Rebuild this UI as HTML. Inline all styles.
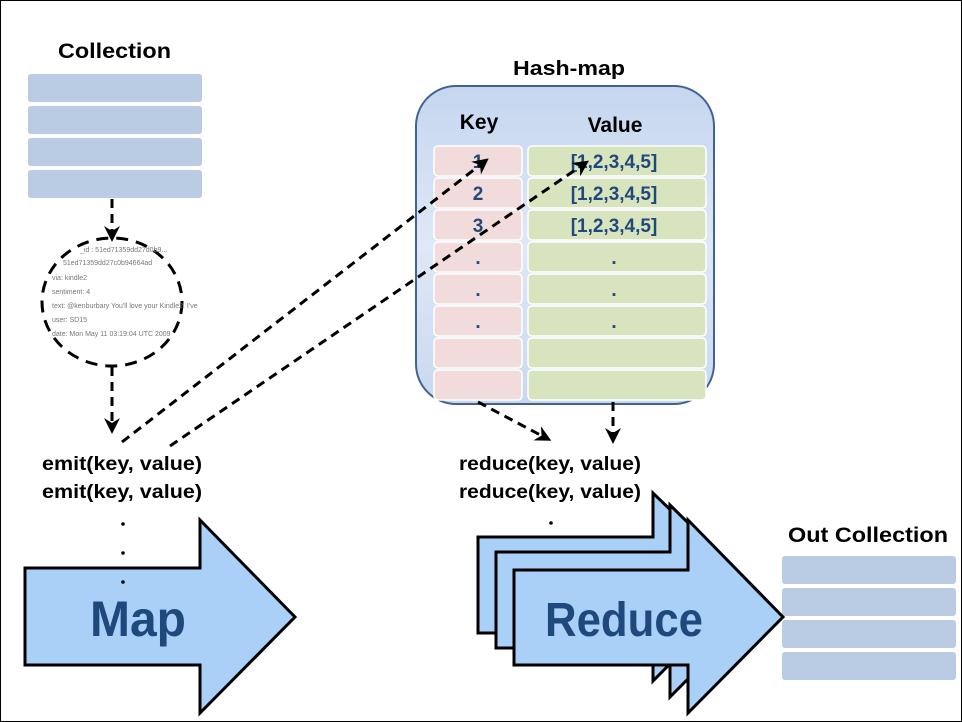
<!DOCTYPE html>
<html><head><meta charset="utf-8"><style>
html,body{margin:0;padding:0;background:#fff}
svg{display:block}
text{font-family:"Liberation Sans",sans-serif}
</style></head><body>
<svg width="962" height="722" viewBox="0 0 962 722" xmlns="http://www.w3.org/2000/svg">
<defs>
<linearGradient id="hg" x1="0" y1="0" x2="0" y2="1">
<stop offset="0" stop-color="#c5d6ef"/><stop offset="0.5" stop-color="#dfe8f6"/><stop offset="1" stop-color="#c9d8ef"/>
</linearGradient>
<marker id="ah" markerWidth="18" markerHeight="18" refX="10" refY="9" orient="auto" markerUnits="userSpaceOnUse" viewBox="0 0 18 18">
<path d="M0,1 L16,9 L0,17 L5,9 Z" fill="#000"/></marker>
</defs>
<rect x="0.5" y="0.5" width="961" height="721" fill="#fff" stroke="#000"/>

<!-- Collection -->
<text x="58" y="58" font-size="21" font-weight="bold" textLength="113" lengthAdjust="spacingAndGlyphs">Collection</text>
<g fill="#b9cce4">
<rect x="28" y="74" width="174" height="28" rx="3"/>
<rect x="28" y="106" width="174" height="28" rx="3"/>
<rect x="28" y="138" width="174" height="28" rx="3"/>
<rect x="28" y="170" width="174" height="28" rx="3"/>
</g>

<!-- Out Collection -->
<text x="788" y="542" font-size="21" font-weight="bold" textLength="160" lengthAdjust="spacingAndGlyphs">Out Collection</text>
<g fill="#b9cce4">
<rect x="782" y="556" width="174" height="28" rx="3"/>
<rect x="782" y="588" width="174" height="28" rx="3"/>
<rect x="782" y="620" width="174" height="28" rx="3"/>
<rect x="782" y="652" width="174" height="28" rx="3"/>
</g>

<!-- ellipse doc -->
<ellipse cx="112" cy="302" rx="70" ry="64" fill="#fff" stroke="#000" stroke-width="3" stroke-dasharray="12,8"/>
<g font-size="7" fill="#777">
<text x="80" y="252">_id : 51ed71359dd27d0b9...</text>
<text x="63" y="265">51ed71359dd27c0b94664ad</text>
<text x="52" y="280">via: kindle2</text>
<text x="52" y="294">sentiment: 4</text>
<text x="52" y="308">text: @kenburbary You'll love your Kindle2. I've</text>
<text x="52" y="322">user: SD15</text>
<text x="52" y="336">date: Mon May 11 03:19:04 UTC 2009</text>
</g>

<!-- Hash map -->
<text x="513" y="75" font-size="20" font-weight="bold" textLength="112" lengthAdjust="spacingAndGlyphs">Hash-map</text>
<rect x="416" y="86" width="298" height="318" rx="40" fill="url(#hg)" stroke="#41648f" stroke-width="2"/>
<text x="479" y="129" font-size="21" font-weight="bold" text-anchor="middle">Key</text>
<text x="615" y="132" font-size="21" font-weight="bold" text-anchor="middle">Value</text>
<g fill="#f2dcdb" stroke="#fff" stroke-width="1.5">
<rect x="434" y="146" width="88" height="30" rx="4"/>
<rect x="434" y="178" width="88" height="30" rx="4"/>
<rect x="434" y="210" width="88" height="30" rx="4"/>
<rect x="434" y="242" width="88" height="30" rx="4"/>
<rect x="434" y="274" width="88" height="30" rx="4"/>
<rect x="434" y="306" width="88" height="30" rx="4"/>
<rect x="434" y="338" width="88" height="30" rx="4"/>
<rect x="434" y="370" width="88" height="30" rx="4"/>
</g>
<g fill="#d7e4bd" stroke="#fff" stroke-width="1.5">
<rect x="528" y="146" width="178" height="30" rx="4"/>
<rect x="528" y="178" width="178" height="30" rx="4"/>
<rect x="528" y="210" width="178" height="30" rx="4"/>
<rect x="528" y="242" width="178" height="30" rx="4"/>
<rect x="528" y="274" width="178" height="30" rx="4"/>
<rect x="528" y="306" width="178" height="30" rx="4"/>
<rect x="528" y="338" width="178" height="30" rx="4"/>
<rect x="528" y="370" width="178" height="30" rx="4"/>
</g>
<g font-size="19" font-weight="bold" fill="#1f497d" text-anchor="middle">
<text x="478" y="168">1</text><text x="478" y="200">2</text><text x="478" y="232">3</text>
<text x="478" y="264">.</text><text x="478" y="296">.</text><text x="478" y="328">.</text>
<text x="614" y="168">[1,2,3,4,5]</text><text x="614" y="200">[1,2,3,4,5]</text><text x="614" y="232">[1,2,3,4,5]</text>
<text x="614" y="264">.</text><text x="614" y="296">.</text><text x="614" y="328">.</text>
</g>

<!-- dashed arrows -->
<g stroke="#000" stroke-width="3" stroke-dasharray="9,6" fill="none" marker-end="url(#ah)">
<line x1="112" y1="199" x2="112" y2="236"/>
<line x1="112" y1="367" x2="112" y2="428"/>
<line x1="122" y1="442" x2="484" y2="162"/>
<line x1="170" y1="446" x2="584" y2="164"/>
<line x1="478" y1="402" x2="546" y2="438"/>
<line x1="613" y1="402" x2="613" y2="438"/>
</g>

<!-- emit / reduce text -->
<g font-size="19" font-weight="bold">
<text x="42" y="470" textLength="160" lengthAdjust="spacingAndGlyphs">emit(key, value)</text>
<text x="42" y="498" textLength="160" lengthAdjust="spacingAndGlyphs">emit(key, value)</text>
<text x="459" y="470" textLength="182" lengthAdjust="spacingAndGlyphs">reduce(key, value)</text>
<text x="459" y="498" textLength="182" lengthAdjust="spacingAndGlyphs">reduce(key, value)</text>
</g>

<!-- Map arrow -->
<path d="M25,568 L200,568 L200,520 L295,617 L200,713 L200,665 L25,665 Z" fill="#abd0f8" stroke="#000" stroke-width="3" stroke-linejoin="miter"/>
<text x="138" y="636" font-size="50" font-weight="bold" fill="#1f497d" text-anchor="middle" textLength="96" lengthAdjust="spacingAndGlyphs">Map</text>

<g fill="#000">
<circle cx="123" cy="524" r="1.8"/><circle cx="123" cy="553" r="1.8"/><circle cx="123" cy="582" r="1.8"/>
<circle cx="551" cy="523" r="1.8"/>
</g>

<!-- Reduce arrows -->
<g fill="#abd0f8" stroke="#000" stroke-width="3">
<path d="M478,537 L653,537 L653,493 L748,585 L653,681 L653,633 L478,633 Z"/>
<path d="M496,552 L670,552 L670,505 L766,600 L670,697 L670,648 L496,648 Z"/>
<path d="M514,570 L688,570 L688,520 L783,617 L688,713 L688,665 L514,665 Z"/>
</g>
<text x="624" y="636" font-size="48" font-weight="bold" fill="#1f497d" text-anchor="middle" textLength="158" lengthAdjust="spacingAndGlyphs">Reduce</text>
</svg>
</body></html>
